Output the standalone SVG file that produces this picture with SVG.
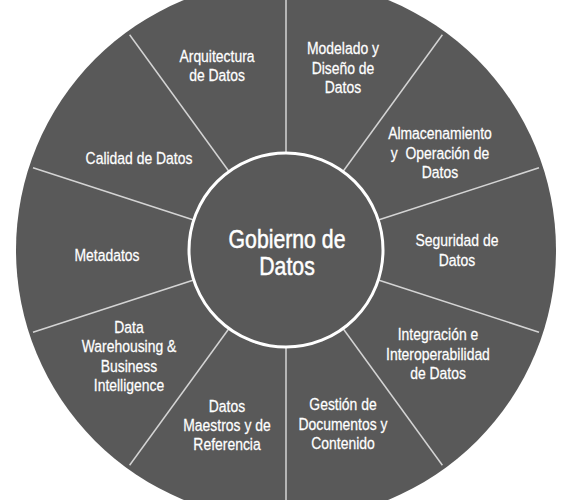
<svg xmlns="http://www.w3.org/2000/svg" width="570" height="500" viewBox="0 0 570 500">
  <style>
    .bg { fill: #ffffff; }
    .ring { fill: #595959; }
    .hub { fill: #595959; stroke: #ffffff; stroke-width: 3; }
    .div { stroke: #d4d4d4; stroke-width: 1.5; fill: none; }
    .lbl { font-family: "Liberation Sans", Arial, sans-serif; font-size: 17px; fill: #ffffff; stroke: #ffffff; stroke-width: 0.25; text-anchor: middle; }
    .hubtxt { font-family: "Liberation Sans", Arial, sans-serif; font-size: 25px; fill: #ffffff; stroke: #ffffff; stroke-width: 0.5; text-anchor: middle; }
  </style>
  <rect class="bg" x="0" y="0" width="570" height="500"/>
  <g id="outer-ring">
    <circle class="ring" cx="286" cy="250" r="270"/>
  </g>
  <g id="connectors">
    <line class="div" x1="286" y1="153" x2="286" y2="-20"/>
    <line class="div" x1="343.0" y1="171.5" x2="442.4" y2="34.8"/>
    <line class="div" x1="378.3" y1="220.0" x2="539.0" y2="167.8"/>
    <line class="div" x1="378.3" y1="280.0" x2="539.0" y2="332.2"/>
    <line class="div" x1="343.0" y1="328.5" x2="442.4" y2="465.2"/>
    <line class="div" x1="286" y1="347" x2="286" y2="520"/>
    <line class="div" x1="229.0" y1="328.5" x2="129.6" y2="465.2"/>
    <line class="div" x1="193.7" y1="280.0" x2="33.0" y2="332.2"/>
    <line class="div" x1="193.7" y1="220.0" x2="33.0" y2="167.8"/>
    <line class="div" x1="229.0" y1="171.5" x2="129.6" y2="34.8"/>
  </g>
  <g id="hub">
    <circle class="hub" cx="286" cy="250" r="97"/>
    <text class="hubtxt" transform="translate(287,0) scale(0.85,1)"><tspan x="0" y="248">Gobierno de</tspan><tspan x="0" y="275">Datos</tspan></text>
  </g>
  <g id="arquitectura">
    <text class="lbl" transform="translate(217,0) scale(0.82,1)"><tspan x="0" y="62">Arquitectura</tspan><tspan x="0" y="81">de Datos</tspan></text>
  </g>
  <g id="modelado">
    <text class="lbl" transform="translate(343,0) scale(0.82,1)"><tspan x="0" y="54">Modelado y</tspan><tspan x="0" y="74">Diseño de</tspan><tspan x="0" y="93">Datos</tspan></text>
  </g>
  <g id="almacenamiento">
    <text class="lbl" transform="translate(440,0) scale(0.82,1)"><tspan x="0" y="139">Almacenamiento</tspan><tspan x="0" y="159" xml:space="preserve">y  Operación de</tspan><tspan x="0" y="178">Datos</tspan></text>
  </g>
  <g id="seguridad">
    <text class="lbl" transform="translate(457,0) scale(0.82,1)"><tspan x="0" y="246">Seguridad de</tspan><tspan x="0" y="266">Datos</tspan></text>
  </g>
  <g id="integracion">
    <text class="lbl" transform="translate(438,0) scale(0.82,1)"><tspan x="0" y="340">Integración e</tspan><tspan x="0" y="360">Interoperabilidad</tspan><tspan x="0" y="379">de Datos</tspan></text>
  </g>
  <g id="gestion">
    <text class="lbl" transform="translate(343,0) scale(0.82,1)"><tspan x="0" y="410">Gestión de</tspan><tspan x="0" y="430">Documentos y</tspan><tspan x="0" y="449">Contenido</tspan></text>
  </g>
  <g id="maestros">
    <text class="lbl" transform="translate(227,0) scale(0.82,1)"><tspan x="0" y="412">Datos</tspan><tspan x="0" y="431">Maestros y de</tspan><tspan x="0" y="450">Referencia</tspan></text>
  </g>
  <g id="warehousing">
    <text class="lbl" transform="translate(129,0) scale(0.82,1)"><tspan x="0" y="333">Data</tspan><tspan x="0" y="352">Warehousing &amp;</tspan><tspan x="0" y="372">Business</tspan><tspan x="0" y="391">Intelligence</tspan></text>
  </g>
  <g id="metadatos">
    <text class="lbl" transform="translate(107,0) scale(0.82,1)"><tspan x="0" y="261">Metadatos</tspan></text>
  </g>
  <g id="calidad">
    <text class="lbl" transform="translate(139,0) scale(0.82,1)"><tspan x="0" y="164">Calidad de Datos</tspan></text>
  </g>
</svg>
